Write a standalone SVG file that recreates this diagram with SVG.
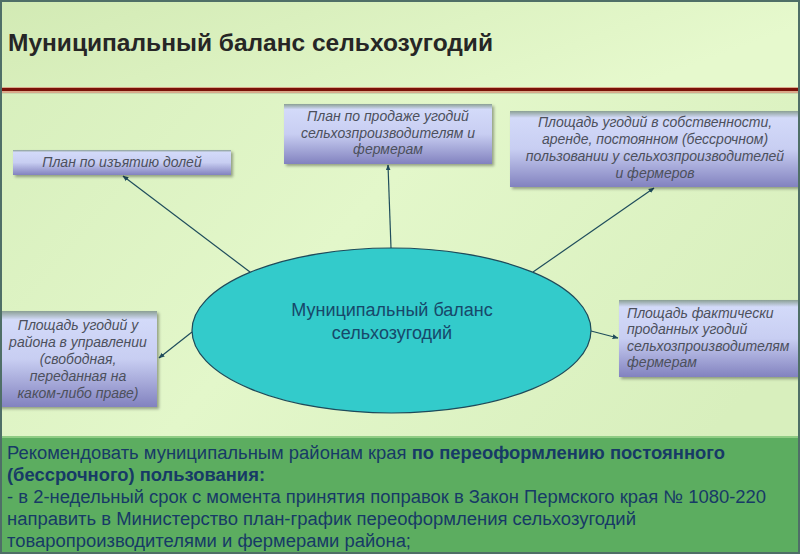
<svg xmlns="http://www.w3.org/2000/svg" width="800" height="554" viewBox="0 0 800 554">
<defs>
<linearGradient id="bgTop" x1="0" y1="0" x2="1" y2="0.3">
<stop offset="0" stop-color="#d2eab4"/><stop offset="1" stop-color="#e6f9cd"/>
</linearGradient>
<linearGradient id="bgMain" x1="0" y1="0" x2="1" y2="0.6">
<stop offset="0" stop-color="#d6eebb"/><stop offset="0.5" stop-color="#e3f7ca"/><stop offset="1" stop-color="#d8efbd"/>
</linearGradient>
<linearGradient id="boxGrad" x1="0" y1="0" x2="0" y2="1">
<stop offset="0" stop-color="#8a9f94"/><stop offset="0.09" stop-color="#d3daf9"/><stop offset="0.5" stop-color="#c8cef2"/><stop offset="1" stop-color="#8282bf"/>
</linearGradient>
<filter id="shadow" x="-10%" y="-10%" width="125%" height="135%">
<feGaussianBlur in="SourceAlpha" stdDeviation="1.5"/>
<feOffset dx="2" dy="2" result="b"/>
<feComponentTransfer><feFuncA type="linear" slope="0.35"/></feComponentTransfer>
<feMerge><feMergeNode/><feMergeNode in="SourceGraphic"/></feMerge>
</filter>
<marker id="arr" viewBox="0 0 10 10" refX="9" refY="5" markerWidth="6" markerHeight="6" orient="auto" markerUnits="userSpaceOnUse">
<path d="M0,1 L10,5 L0,9 z" fill="#1f4d5c"/>
</marker>
</defs>
<style>
.box{fill:url(#boxGrad);filter:url(#shadow)}
.bt{font-family:"Liberation Sans",Arial,sans-serif;font-size:14px;font-style:italic;fill:#4c505c}
.conn{stroke:#1f4d5c;stroke-width:1.2;fill:none;marker-end:url(#arr)}
.bottom{font-family:"Liberation Sans",Arial,sans-serif;font-size:18px;fill:#173a66}
.ct{font-family:"Liberation Sans",Arial,sans-serif;font-size:18px;fill:#17486a}
</style>
<rect x="0" y="0" width="800" height="554" fill="url(#bgMain)"/>
<rect x="0" y="0" width="800" height="88" fill="url(#bgTop)"/>
<rect x="0" y="87" width="800" height="6" fill="#d9a98a"/>
<rect x="0" y="88" width="800" height="3" fill="#7a1208"/>
<rect x="0" y="93" width="800" height="1" fill="#c9d9b0"/>
<text x="8" y="51" font-family="Liberation Sans,Arial,sans-serif" font-size="24" font-weight="bold" fill="#262626" textLength="485" lengthAdjust="spacingAndGlyphs">Муниципальный баланс сельхозугодий</text>

<g id="connectors">
<line class="conn" x1="250" y1="272" x2="123" y2="176"/>
<line class="conn" x1="391" y1="248" x2="388" y2="165"/>
<line class="conn" x1="533" y1="272" x2="654" y2="188"/>
<line class="conn" x1="192" y1="332" x2="159" y2="358"/>
<line class="conn" x1="591" y1="331" x2="618" y2="338"/>
</g>

<g id="center">
<ellipse cx="391.5" cy="330.5" rx="199.5" ry="82.5" fill="#33cbcb" stroke="#1e4a5a" stroke-width="1.2"/>
<text class="ct" x="392" y="316" text-anchor="middle">Муниципальный баланс</text>
<text class="ct" x="392" y="339" text-anchor="middle">сельхозугодий</text>
</g>

<g id="box1">
<rect class="box" x="13" y="150" width="218" height="25"/>
<text class="bt" x="122" y="167" text-anchor="middle">План по изъятию долей</text>
</g>

<g id="box2">
<rect class="box" x="284" y="104" width="208" height="60"/>
<text class="bt" x="388" y="121" text-anchor="middle">План по продаже угодий</text>
<text class="bt" x="388" y="138" text-anchor="middle">сельхозпроизводителям и</text>
<text class="bt" x="388" y="154" text-anchor="middle">фермерам</text>
</g>

<g id="box3">
<rect class="box" x="510" y="111" width="292" height="76"/>
<text class="bt" x="655" y="127" text-anchor="middle">Площадь угодий в собственности,</text>
<text class="bt" x="655" y="144" text-anchor="middle">аренде, постоянном (бессрочном)</text>
<text class="bt" x="655" y="161" text-anchor="middle">пользовании у сельхозпроизводителей</text>
<text class="bt" x="655" y="178" text-anchor="middle">и фермеров</text>
</g>

<g id="box4">
<rect class="box" x="-2" y="311" width="159" height="96"/>
<text class="bt" x="78" y="330" text-anchor="middle">Площадь угодий у</text>
<text class="bt" x="78" y="347" text-anchor="middle">района в управлении</text>
<text class="bt" x="78" y="364" text-anchor="middle">(свободная,</text>
<text class="bt" x="78" y="381" text-anchor="middle">переданная на</text>
<text class="bt" x="78" y="398" text-anchor="middle">каком-либо праве)</text>
</g>

<g id="box5">
<rect class="box" x="619" y="300" width="183" height="77"/>
<text class="bt" x="627" y="318">Площадь фактически</text>
<text class="bt" x="627" y="334">проданных угодий</text>
<text class="bt" x="627" y="351">сельхозпроизводителям</text>
<text class="bt" x="627" y="367">фермерам</text>
</g>

<g id="bottom">
<rect x="0" y="437" width="800" height="117" fill="#5cad60"/>
<rect x="0" y="436" width="800" height="2" fill="#8fcc84"/>
<text class="bottom" x="7" y="459" textLength="718" lengthAdjust="spacingAndGlyphs">Рекомендовать муниципальным районам края <tspan font-weight="bold">по переоформлению постоянного</tspan></text>
<text class="bottom" x="7" y="481" font-weight="bold" textLength="258" lengthAdjust="spacingAndGlyphs">(бессрочного) пользования:</text>
<text class="bottom" x="7" y="503" textLength="759" lengthAdjust="spacingAndGlyphs">- в 2-недельный срок с момента принятия поправок в Закон Пермского края № 1080-220</text>
<text class="bottom" x="7" y="525" textLength="629" lengthAdjust="spacingAndGlyphs">направить в Министерство план-график переоформления сельхозугодий</text>
<text class="bottom" x="7" y="547" textLength="404" lengthAdjust="spacingAndGlyphs">товаропроизводителями и фермерами района;</text>
</g>
<rect x="1" y="1" width="798" height="552" fill="none" stroke="#4f6f67" stroke-width="2"/>
</svg>
